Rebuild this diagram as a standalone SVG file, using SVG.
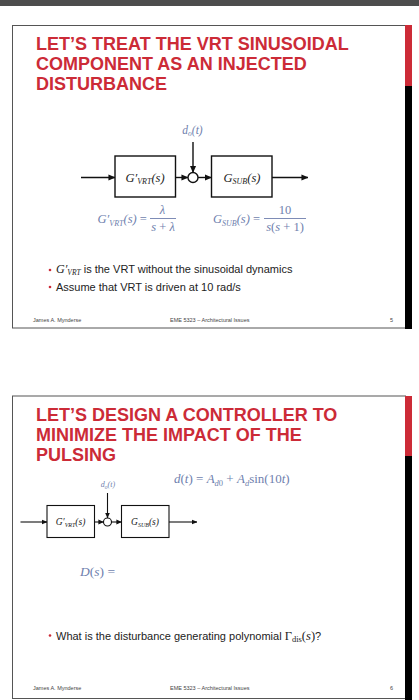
<svg xmlns="http://www.w3.org/2000/svg" width="419" height="700" viewBox="0 0 419 700">
<style>
.title{font-family:"Liberation Sans",Arial,sans-serif;font-weight:bold;font-size:18px;fill:#cc2b37}
.body{font-family:"Liberation Sans",Arial,sans-serif;font-size:11px;fill:#222}
.foot{font-family:"Liberation Sans",Arial,sans-serif;font-size:5.5px;fill:#444}
.math{font-family:"Liberation Serif","DejaVu Serif",serif;font-style:italic;fill:#6f7fae}
.mathk{font-family:"Liberation Serif","DejaVu Serif",serif;font-style:italic;fill:#222}
.up{font-style:normal}
.box{fill:#fff;stroke:#111;stroke-width:1.4}
.box2{fill:#fff;stroke:#111;stroke-width:1.1}
.wire{stroke:#111;stroke-width:1.4;fill:none}
.wire2{stroke:#111;stroke-width:1.1;fill:none}
.frame{fill:#fff;stroke:#555;stroke-width:1}
.dot{fill:#cc2b37}
</style>
<defs>
<marker id="ah" viewBox="0 0 8 8" refX="7.5" refY="4" markerWidth="7" markerHeight="7" markerUnits="userSpaceOnUse" orient="auto">
<path d="M0,0.5 L8,4 L0,7.5 z" fill="#111"/>
</marker>
<marker id="ah2" viewBox="0 0 8 8" refX="7.5" refY="4" markerWidth="5.5" markerHeight="5.5" markerUnits="userSpaceOnUse" orient="auto">
<path d="M0,0.5 L8,4 L0,7.5 z" fill="#111"/>
</marker>
</defs>

<rect x="0" y="0" width="419" height="700" fill="#fff"/>
<rect x="0" y="0" width="419" height="6" fill="#4d4d4d"/>

<!-- Slide 1 -->
<g id="slide1">
<rect class="frame" x="12.5" y="25.5" width="393" height="302.5"/>
<rect x="405" y="25" width="7" height="61" fill="#cc2b37"/>
<rect x="405" y="86" width="7" height="243" fill="#000"/>
<text class="title" x="36" y="50">LET’S TREAT THE VRT SINUSOIDAL</text>
<text class="title" x="36" y="70">COMPONENT AS AN INJECTED</text>
<text class="title" x="36" y="90">DISTURBANCE</text>
</g>

<g id="s1-dlabel">
<text class="math" x="192.5" y="133.5" text-anchor="middle" font-size="11.5">d<tspan font-size="7.5" dy="2">o</tspan><tspan dy="-2">(t)</tspan></text>
</g>
<g id="s1-gvrt">
<rect class="box" x="115" y="156" width="60.5" height="41"/>
<text class="mathk" x="145" y="181.5" text-anchor="middle" font-size="12.5">G′<tspan font-size="8" dy="2.5">VRT</tspan><tspan dy="-2.5">(s)</tspan></text>
</g>
<g id="s1-sum">
<circle cx="193" cy="177.5" r="5" fill="#fff" stroke="#111" stroke-width="1.4"/>
</g>
<g id="s1-gsub">
<rect class="box" x="211.5" y="156" width="60.5" height="41"/>
<text class="mathk" x="242" y="181.5" text-anchor="middle" font-size="12.5">G<tspan font-size="8" dy="2.5">SUB</tspan><tspan dy="-2.5">(s)</tspan></text>
</g>
<g id="s1-connectors">
<line class="wire" x1="81" y1="177.5" x2="115" y2="177.5" marker-end="url(#ah)"/>
<line class="wire" x1="175.5" y1="177.5" x2="188" y2="177.5" marker-end="url(#ah)"/>
<line class="wire" x1="193" y1="142" x2="193" y2="172.5" marker-end="url(#ah)"/>
<line class="wire" x1="198" y1="177.5" x2="211.5" y2="177.5" marker-end="url(#ah)"/>
<line class="wire" x1="272" y1="177.5" x2="308" y2="177.5" marker-end="url(#ah)"/>
</g>
<g id="s1-formulas">
<text class="math" x="97.5" y="223" font-size="12.5">G′<tspan font-size="8" dy="2.5">VRT</tspan><tspan dy="-2.5">(s) <tspan class="up">=</tspan></tspan></text>
<text class="math" x="162.5" y="214" text-anchor="middle" font-size="12.5">λ</text>
<line x1="150" y1="218.5" x2="176" y2="218.5" stroke="#6f7fae" stroke-width="0.9"/>
<text class="math" x="163" y="230.5" text-anchor="middle" font-size="12.5">s <tspan class="up">+</tspan> λ</text>
<text class="math" x="213" y="223" font-size="12.5">G<tspan font-size="8" dy="2.5">SUB</tspan><tspan dy="-2.5">(s) <tspan class="up">=</tspan></tspan></text>
<text class="math" x="285" y="214" text-anchor="middle" font-size="12.5"><tspan class="up">10</tspan></text>
<line x1="264" y1="218.5" x2="306" y2="218.5" stroke="#6f7fae" stroke-width="0.9"/>
<text class="math" x="285" y="230.5" text-anchor="middle" font-size="12.5">s<tspan class="up">(</tspan>s <tspan class="up">+ 1)</tspan></text>
</g>
<g id="s1-bullets">
<circle class="dot" cx="50" cy="270" r="1.3"/>
<text class="body" x="56" y="273"><tspan style="font-family:'Liberation Serif','DejaVu Serif',serif;font-style:italic;font-size:12px">G′<tspan font-size="7.5" dy="2">VRT</tspan></tspan><tspan dy="-2"> is the VRT without the sinusoidal dynamics</tspan></text>
<circle class="dot" cx="50" cy="287" r="1.3"/>
<text class="body" x="56" y="290.5">Assume that VRT is driven at 10 rad/s</text>
</g>
<g id="s1-footer">
<text class="foot" x="33" y="322">James A. Mynderse</text>
<text class="foot" x="170" y="322">EME 5323 – Architectural Issues</text>
<text class="foot" x="390" y="322">5</text>
</g>

<!-- Slide 2 -->
<g id="slide2">
<rect class="frame" x="12.5" y="396" width="393" height="302.5"/>
<rect x="405" y="396" width="7" height="60" fill="#cc2b37"/>
<rect x="405" y="456" width="7" height="244" fill="#000"/>
<text class="title" x="36" y="421">LET’S DESIGN A CONTROLLER TO</text>
<text class="title" x="36" y="441">MINIMIZE THE IMPACT OF THE</text>
<text class="title" x="36" y="461">PULSING</text>
</g>
<g id="s2-dt">
<text class="math" x="174" y="483" font-size="13">d<tspan class="up">(</tspan>t<tspan class="up">) = </tspan>A<tspan font-size="8.5" dy="2.5">d<tspan class="up">0</tspan></tspan><tspan class="up" dy="-2.5"> + </tspan>A<tspan font-size="8.5" dy="2.5">d</tspan><tspan class="up" dy="-2.5">sin(10</tspan>t<tspan class="up">)</tspan></text>
</g>
<g id="s2-dlabel">
<text class="math" x="108" y="487" text-anchor="middle" font-size="8">d<tspan font-size="5.5" dy="1.5">o</tspan><tspan dy="-1.5">(t)</tspan></text>
</g>
<g id="s2-gvrt">
<rect class="box2" x="47" y="505.5" width="47.5" height="32"/>
<text class="mathk" x="70.5" y="525" text-anchor="middle" font-size="9.5">G′<tspan font-size="6" dy="2">VRT</tspan><tspan dy="-2">(s)</tspan></text>
</g>
<g id="s2-sum">
<circle cx="107.5" cy="522" r="4" fill="#fff" stroke="#111" stroke-width="1.1"/>
</g>
<g id="s2-gsub">
<rect class="box2" x="121.5" y="505.5" width="47.5" height="32"/>
<text class="mathk" x="145" y="525" text-anchor="middle" font-size="9.5">G<tspan font-size="6" dy="2">SUB</tspan><tspan dy="-2">(s)</tspan></text>
</g>
<g id="s2-connectors">
<line class="wire2" x1="20.5" y1="522" x2="47" y2="522" marker-end="url(#ah2)"/>
<line class="wire2" x1="94.5" y1="522" x2="103.5" y2="522" marker-end="url(#ah2)"/>
<line class="wire2" x1="107.5" y1="493" x2="107.5" y2="518" marker-end="url(#ah2)"/>
<line class="wire2" x1="111.5" y1="522" x2="121.5" y2="522" marker-end="url(#ah2)"/>
<line class="wire2" x1="169" y1="522" x2="197" y2="522" marker-end="url(#ah2)"/>
</g>
<g id="s2-Ds">
<text class="math" x="80" y="576" font-size="13.5">D<tspan class="up">(</tspan>s<tspan class="up">) =</tspan></text>
</g>
<g id="s2-bullet">
<circle class="dot" cx="50" cy="635.5" r="1.3"/>
<text class="body" x="56" y="639.5">What is the disturbance generating polynomial <tspan style="font-family:'Liberation Serif','DejaVu Serif',serif;font-size:12.5px">Γ<tspan font-size="8.5" dy="2">dis</tspan><tspan dy="-2">(<tspan font-style="italic">s</tspan>)</tspan></tspan>?</text>
</g>
<g id="s2-footer">
<text class="foot" x="33" y="690">James A. Mynderse</text>
<text class="foot" x="170" y="690">EME 5323 – Architectural Issues</text>
<text class="foot" x="390" y="690">6</text>
</g>
</svg>
